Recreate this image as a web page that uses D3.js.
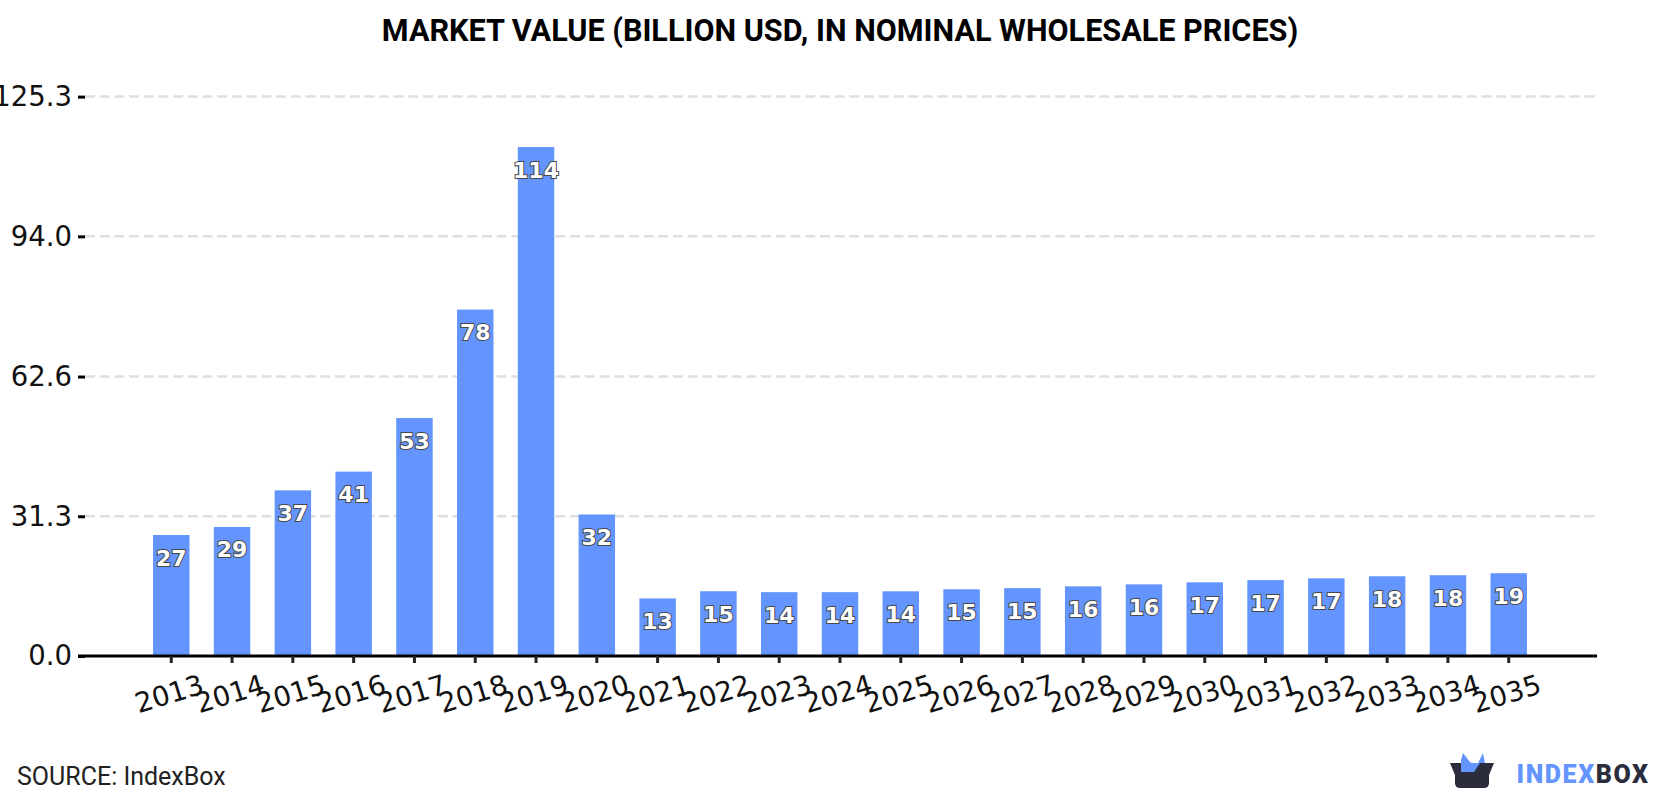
<!DOCTYPE html>
<html>
<head>
<meta charset="utf-8">
<script src="https://cdnjs.cloudflare.com/ajax/libs/d3/7.8.5/d3.min.js"></script>
<style>
  html, body { margin: 0; padding: 0; background: #fff; }
  svg { display: block; }
</style>
</head>
<body>
<svg id="chart" width="1680" height="800"></svg>
<script>
const years = ["2013","2014","2015","2016","2017","2018","2019","2020","2021","2022","2023","2024","2025","2026","2027","2028","2029","2030","2031","2032","2033","2034","2035"];
const values = [27.1,28.9,37.1,41.3,53.3,77.6,114,31.7,12.9,14.51,14.3,14.3,14.49,14.95,15.2,15.6,16.05,16.5,17.0,17.4,17.86,18.1,18.55];
const yTicks = [0,31.3,62.6,94.0,125.3];
const titleText = "MARKET VALUE (BILLION USD, IN NOMINAL WHOLESALE PRICES)";
const sourceText = "SOURCE: IndexBox";

const svg = d3.select("#chart");
const sans = "'DejaVu Sans', sans-serif";
const roboto = "Roboto, sans-serif";

const x = d3.scaleBand().domain(years).range([81.3, 1598.7]).paddingInner(0.4).paddingOuter(1.18);
const y = d3.scaleLinear().domain([0, 125.3]).range([656, 96.6]);

// Dashed horizontal gridlines
svg.append("g").selectAll("line").data(yTicks.slice(1)).join("line")
  .attr("x1", 85).attr("x2", 1598)
  .attr("y1", d => y(d)).attr("y2", d => y(d))
  .attr("stroke", "#dfdfdf").attr("stroke-width", 2.5)
  .attr("stroke-dasharray", "10 4.7");

// Bars
svg.append("g").selectAll("rect").data(values).join("rect")
  .attr("x", (d, i) => x(years[i]))
  .attr("width", x.bandwidth())
  .attr("y", d => y(d))
  .attr("height", d => y(0) - y(d))
  .attr("fill", "#6495ff");

// Left axis
const yAxis = svg.append("g").attr("transform", "translate(85,0)")
  .call(d3.axisLeft(y).tickValues(yTicks).tickFormat(d3.format(".1f")).tickSize(7).tickPadding(6));
yAxis.select(".domain").remove();
yAxis.selectAll("line").attr("stroke", "#000").attr("stroke-width", 3);
yAxis.selectAll("text").attr("font-family", sans).attr("font-size", 27.5).attr("fill", "#111");

// Bottom axis
const xAxis = svg.append("g").attr("transform", "translate(0,656)")
  .call(d3.axisBottom(x).tickSize(7).tickPadding(10));
xAxis.select(".domain").attr("d", "M78,0H1597").attr("stroke", "#000").attr("stroke-width", 3);
xAxis.selectAll("line").attr("stroke", "#222").attr("stroke-width", 3);
xAxis.selectAll("text")
  .attr("font-family", sans).attr("font-size", 27.5).attr("fill", "#111")
  .attr("text-anchor", "middle")
  .attr("transform", "translate(-10,12) rotate(-17)")
  .attr("dy", "0.71em");

// Value labels inside the bars
svg.append("g").selectAll("text").data(values).join("text")
  .attr("x", (d, i) => x(years[i]) + x.bandwidth() / 2)
  .attr("y", d => y(d) + 30.5)
  .attr("text-anchor", "middle")
  .attr("font-family", sans).attr("font-weight", 700).attr("font-size", 22)
  .attr("fill", "#fff").attr("stroke", "#484848").attr("stroke-width", 2)
  .attr("paint-order", "stroke")
  .text(d => d3.format(".0f")(d));

// Title and source line
svg.append("text").attr("x", 840).attr("y", 41).attr("text-anchor", "middle")
  .attr("font-family", roboto).attr("font-weight", 700).attr("font-size", 30.6).attr("fill", "#000")
  .text(titleText);
svg.append("text").attr("x", 17).attr("y", 784.5)
  .attr("font-family", roboto).attr("font-size", 25).attr("fill", "#222")
  .text(sourceText);

// Brand mark: open box with a blue crown
const logo = svg.append("g").attr("transform", "translate(1450,753)");
logo.append("path").attr("fill", "#6495ff")
  .attr("d", "M11,20 V7 L13,0 L20,9 L22,10 L28,10 L33,0 L35,10 L30,20 Z");
logo.append("path").attr("fill", "#2b2d3c")
  .attr("d", "M0,10 H11 V19 H24 L30,10 H44 L39,22 V30 Q39,35 34,35 H10 Q5,35 5,30 V22 Z");
const brand = svg.append("text").attr("x", 1516.5).attr("y", 782.5)
  .attr("font-family", roboto).attr("font-weight", 900).attr("font-size", 25).attr("letter-spacing", 1.6);
brand.append("tspan").attr("fill", "#6495ff").text("INDEX");
brand.append("tspan").attr("fill", "#2b2d3c").text("BOX");
</script>
</body>
</html>
